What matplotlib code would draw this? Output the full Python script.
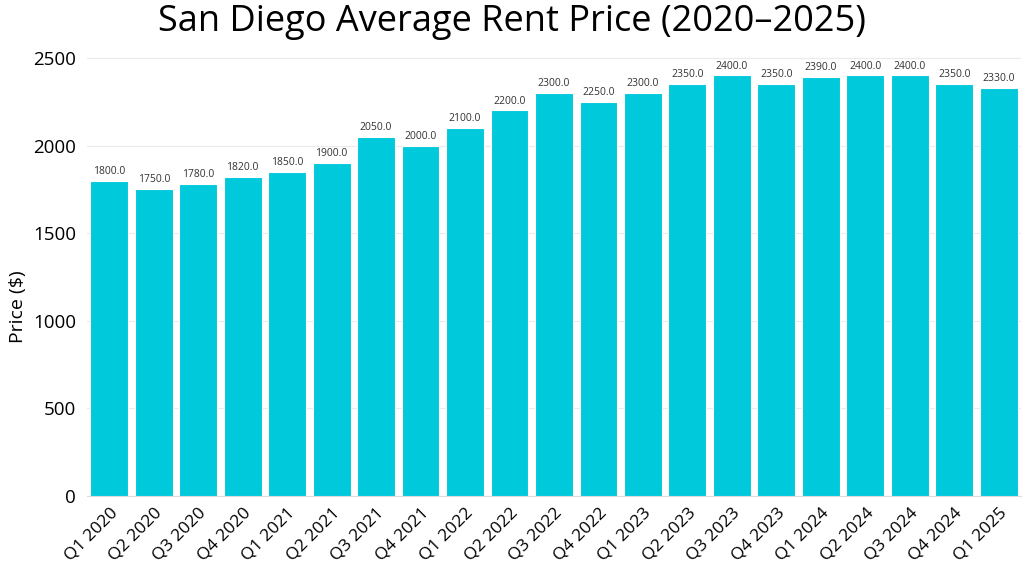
import matplotlib
matplotlib.use("Agg")
import matplotlib.pyplot as plt

plt.rcParams['font.family'] = ['Open Sans', 'DejaVu Sans']

quarters = ["Q1 2020", "Q2 2020", "Q3 2020", "Q4 2020",
            "Q1 2021", "Q2 2021", "Q3 2021", "Q4 2021",
            "Q1 2022", "Q2 2022", "Q3 2022", "Q4 2022",
            "Q1 2023", "Q2 2023", "Q3 2023", "Q4 2023",
            "Q1 2024", "Q2 2024", "Q3 2024", "Q4 2024",
            "Q1 2025"]
prices = [1800, 1750, 1780, 1820, 1850, 1900, 2050, 2000, 2100, 2200,
          2300, 2250, 2300, 2350, 2400, 2350, 2390, 2400, 2400, 2350, 2330]

fig = plt.figure(figsize=(10.24, 5.76), dpi=100)
ax = fig.add_axes([0.085, 0.139, 0.912, 0.80])

x = range(len(quarters))
ax.bar(x, prices, width=0.85, color="#00C9DB", edgecolor="white", linewidth=0.8, zorder=3)

for xi, v in zip(x, prices):
    ax.text(xi, v + 22, f"{float(v):.1f}", ha="center", va="bottom",
            fontsize=7.5, color="#333333", zorder=4)

ax.set_xlim(-0.5, len(quarters) - 0.5)
ax.set_ylim(0, 2630)
ax.set_yticks([0, 500, 1000, 1500, 2000, 2500])
ax.set_xticks(list(x))
ax.set_xticklabels(quarters, rotation=45, ha="right", rotation_mode="anchor", fontsize=12.5)
ax.tick_params(axis="y", labelsize=13.5, length=0, pad=8)
ax.tick_params(axis="x", length=0, pad=6)

ax.yaxis.grid(True, color="#EBEBEB", linewidth=0.8, zorder=0)
for s in ["top", "right", "left"]:
    ax.spines[s].set_visible(False)
ax.spines["bottom"].set_color("#DDDDDD")

ax.set_ylabel("Price ($)", fontsize=14)
ax.yaxis.set_label_coords(-0.064, 0.41)
fig.suptitle("San Diego Average Rent Price (2020\u20132025)", fontsize=26, y=0.962, va="center")

fig.savefig("out.png", dpi=100, facecolor="white")
